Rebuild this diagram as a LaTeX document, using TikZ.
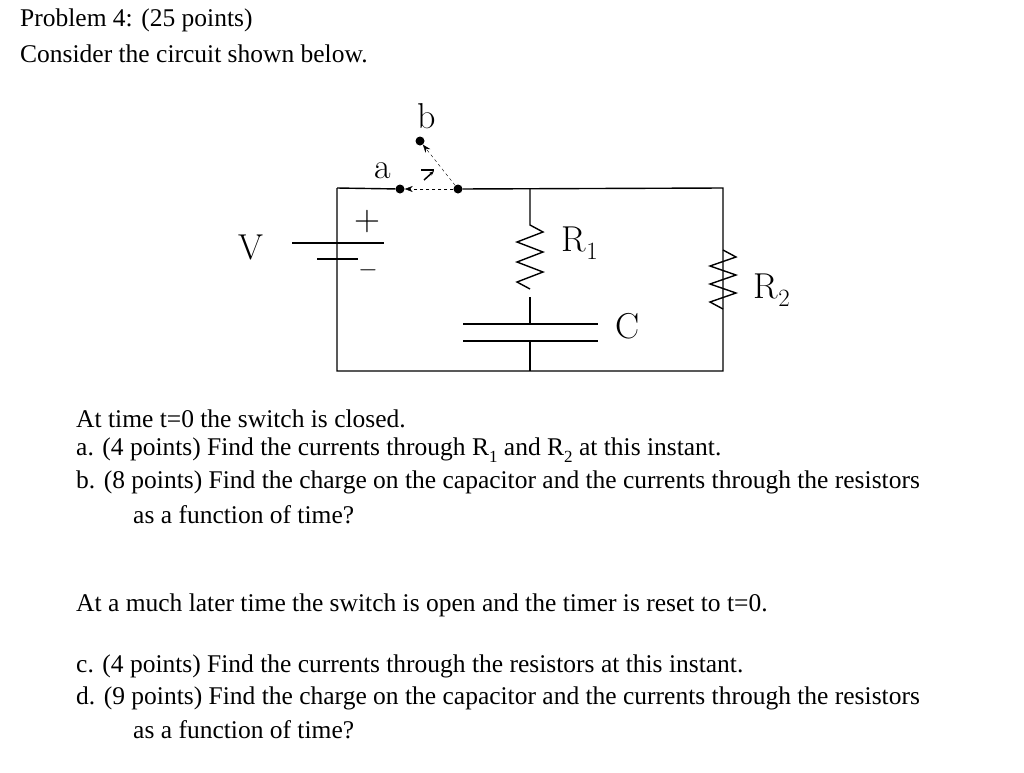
\documentclass[tikz,border=0pt]{standalone}
\usepackage{fontspec}
\newfontfamily\tnr{Liberation Serif}
\usetikzlibrary{arrows.meta}
\newcommand\subtx[1]{\raisebox{-0.25em}{\fontsize{17}{17}\selectfont #1}}
\begin{document}
\begin{tikzpicture}[x=1pt,y=-1pt,
  txt/.style={anchor=west,inner sep=0pt,font=\tnr\fontsize{25.5}{28}\selectfont},
  lab/.style={inner sep=0pt,font=\fontsize{36}{38}\selectfont},
  wire/.style={line width=1.4pt,line join=miter},
  dot/.style={circle,fill,inner sep=0pt,minimum size=9pt}]
\useasboundingbox (0,0) rectangle (1024,772);
\node[txt] (t1) at (20,20) {Problem 4: (25 points)};
\node[txt] (t2) at (20,54) {Consider the circuit shown below.};
% circuit
\coordinate (tl) at (337,188); \coordinate (bl) at (337,371);
\coordinate (tm) at (530,188); \coordinate (bm) at (530,371);
\coordinate (tr) at (723,188); \coordinate (br) at (723,371);
\node[dot] (a) at (400,189) {};
\node[dot] (p) at (458,189) {};
\node[dot] (b) at (420,141) {};
\draw[wire] (tl) -- (a);
\draw[wire] (p) -- (tr) -- (br) -- (bl) -- (tl);
\draw[wire] (tm) -- (530,225) -- (543,232) -- (517,242) -- (543,252) -- (517,262) -- (543,272) -- (517,282) -- (530,289);
\draw[wire] (530,297) -- (530,324);
\draw[wire] (463,324) -- (598,324);
\draw[wire] (463,341) -- (598,341);
\draw[wire] (530,341) -- (bm);
\draw[wire] (723,250) -- (736,257) -- (710,266) -- (736,275) -- (710,284) -- (736,293) -- (710,302) -- (723,309);
% switch
\draw[thin,dashed,-{Stealth[length=8pt]}] (p) -- (b);
\draw[thin,dashed,-{Stealth[length=8pt]}] (p) -- (a);
\draw[line width=1.5pt,-{Stealth[length=5pt]}] (424,180) -- (434,171);
\draw[line width=1.5pt] (421,170) -- (434,170);
\node[lab] (la) at (383,171) {a};
\node[lab] (lb) at (427,116) {b};
% battery
\draw[wire] (292,243) -- (384,243);
\draw[wire] (317,259) -- (358,259);
\node[lab] (plus) at (367,222) {+};
\node[lab] (minus) at (368,270) {$-$};
\node[lab] (V) at (251,247) {V};
\node[lab] (R1) at (580,243) {R$_1$};
\node[lab] (R2) at (772,290) {R$_2$};
\node[lab] (C) at (628,326) {C};
% text
\node[txt] (t3) at (76,419) {At time t=0 the switch is closed.};
\node[txt] (t4) at (76,450) {a. (4 points) Find the currents through R\subtx{1} and R\subtx{2} at this instant.};
\node[txt] (t5) at (76,482) {b. (8 points) Find the charge on the capacitor and the currents through the resistors};
\node[txt] (t6) at (133,515) {as a function of time?};
\node[txt] (t7) at (76,605) {At a much later time the switch is open and the timer is reset to t=0.};
\node[txt] (t8) at (76,666) {c. (4 points) Find the currents through the resistors at this instant.};
\node[txt] (t9) at (76,698) {d. (9 points) Find the charge on the capacitor and the currents through the resistors};
\node[txt] (t10) at (133,730) {as a function of time?};
\end{tikzpicture}
\end{document}
